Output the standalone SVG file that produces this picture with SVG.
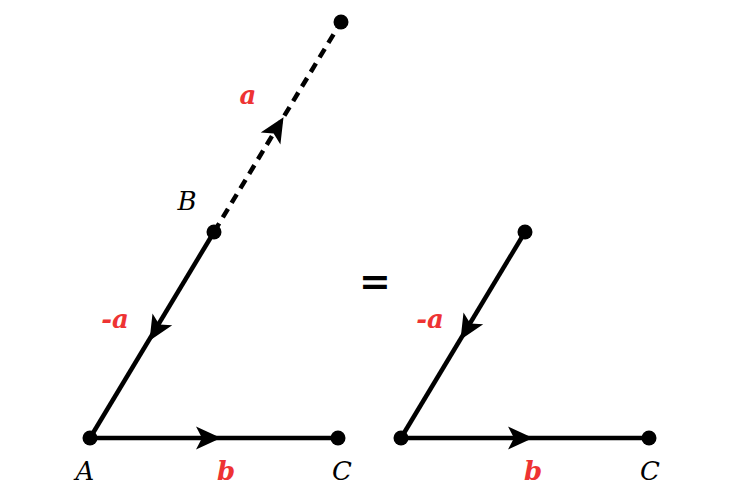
<svg xmlns="http://www.w3.org/2000/svg" width="750" height="500" viewBox="0 0 750 500">
<style>
.ln{stroke:#000;stroke-width:4.5;fill:none}
.dash{stroke-dasharray:10 7}
.dot{fill:#000}
.lbl{font-family:"DejaVu Serif","Liberation Serif",serif;font-style:italic;font-size:26px;fill:#000;text-anchor:middle}
.red{fill:#ee3333;font-weight:bold}
.eq{font-family:"DejaVu Sans","Liberation Sans",sans-serif;font-weight:bold;font-size:38px;text-anchor:middle}
</style>
<defs>
<path id="ah" d="M1,0 L-24,-11.5 L-18,0 L-24,11.5 Z" fill="#000"/>
</defs>
<rect width="750" height="500" fill="#fff"/>
<g id="connectors">
<line class="ln dash" x1="214" y1="232" x2="341" y2="22"/>
<line class="ln" x1="214" y1="232" x2="90" y2="438"/>
<line class="ln" x1="90" y1="438" x2="338" y2="438"/>
<line class="ln" x1="525" y1="232" x2="401" y2="438"/>
<line class="ln" x1="401" y1="438" x2="649" y2="438"/>
<use href="#ah" transform="translate(283,118) rotate(-58.8)"/>
<use href="#ah" transform="translate(150,340) rotate(121)"/>
<use href="#ah" transform="translate(220,438)"/>
<use href="#ah" transform="translate(461,339) rotate(121)"/>
<use href="#ah" transform="translate(532,438)"/>
</g>
<g id="top"><circle class="dot" cx="341" cy="22" r="7.5"/></g>
<g id="B"><circle class="dot" cx="214" cy="232" r="7.5"/><text class="lbl" x="187" y="210">B</text></g>
<g id="A"><circle class="dot" cx="90" cy="438" r="7.5"/><text class="lbl" x="85" y="480">A</text></g>
<g id="C"><circle class="dot" cx="338" cy="438" r="7.5"/><text class="lbl" x="342" y="480">C</text></g>
<g id="B2"><circle class="dot" cx="525" cy="232" r="7.5"/></g>
<g id="A2"><circle class="dot" cx="401" cy="438" r="7.5"/></g>
<g id="C2"><circle class="dot" cx="649" cy="438" r="7.5"/><text class="lbl" x="650" y="480">C</text></g>
<g id="labels">
<text class="lbl red" x="248" y="104">a</text>
<text class="lbl red" x="115" y="328">-a</text>
<text class="lbl red" x="226" y="480">b</text>
<text class="lbl red" x="430" y="328">-a</text>
<text class="lbl red" x="533" y="480">b</text>
<text class="eq" x="375" y="294">=</text>
</g>
</svg>
